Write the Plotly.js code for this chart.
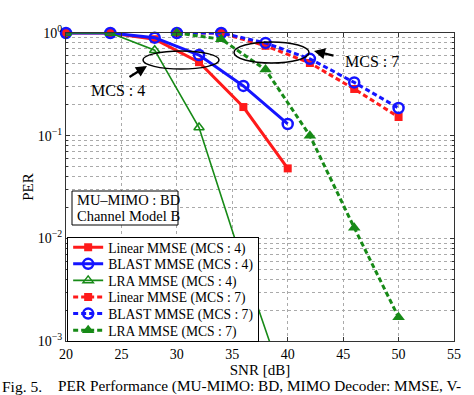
<!DOCTYPE html>
<html>
<head>
<meta charset="utf-8">
<script src="https://cdn.plot.ly/plotly-3.0.1.min.js"></script>
<style>html,body{margin:0;padding:0;background:#fff;}#chart{width:474px;height:395px;}</style>
</head>
<body>
<div id="chart"></div>
<script>
// ---- data ----
var snrMcs4 = [20, 24, 28, 32, 36, 40];
var linearMcs4 = [1.0, 1.0, 0.87, 0.52, 0.19, 0.048];
var blastMcs4 = [1.0, 1.0, 0.90, 0.61, 0.305, 0.13];
var lraMcs4 = [1.0, 1.0, 0.68, 0.12, 0.0055, 0.0003];

var snrMcs7 = [30, 34, 38, 42, 46, 50];
var linearMcs7 = [1.0, 1.0, 0.75, 0.51, 0.285, 0.152];
var blastMcs7 = [1.0, 1.0, 0.80, 0.56, 0.33, 0.186];
var lraMcs7 = [1.0, 0.87, 0.44, 0.10, 0.0127, 0.0017];

var seriesNames = [
  'Linear MMSE (MCS : 4)', 'BLAST MMSE (MCS : 4)', 'LRA MMSE (MCS : 4)',
  'Linear MMSE (MCS : 7)', 'BLAST MMSE (MCS : 7)', 'LRA MMSE (MCS : 7)'
];
var yTickVals = [0.001, 0.01, 0.1, 1];
var yTickText = ['10<sup>\u22123</sup>', '10<sup>\u22122</sup>', '10<sup>\u22121</sup>', '10<sup>0</sup>'];
var xTickVals = [20, 25, 30, 35, 40, 45, 50, 55];

// ---- styling ----
var RED = '#ff1a1a', BLUE = '#1414ff', GREEN = '#178a17';
var FONT = '"Liberation Serif", "DejaVu Serif", serif';
var dashPat = '5px,3px';

var minorVals = [];
[0.001, 0.01, 0.1].forEach(function (d) {
  for (var k = 2; k <= 9; k++) minorVals.push(d * k);
});

var traces = [
  {x: snrMcs4, y: linearMcs4, name: seriesNames[0], mode: 'lines+markers', cliponaxis: false,
   line: {color: RED, width: 3}, marker: {symbol: 'square', size: 8, color: RED}},
  {x: snrMcs4, y: blastMcs4, name: seriesNames[1], mode: 'lines+markers', cliponaxis: false,
   line: {color: BLUE, width: 3}, marker: {symbol: 'circle-open', size: 10, color: BLUE, line: {width: 2.5, color: BLUE}}},
  {x: snrMcs4, y: lraMcs4, name: seriesNames[2], mode: 'lines+markers', cliponaxis: true,
   line: {color: GREEN, width: 1.6}, marker: {symbol: 'triangle-up-open', size: 9, color: GREEN, line: {width: 1.5, color: GREEN}}},
  {x: snrMcs7, y: linearMcs7, name: seriesNames[3], mode: 'lines+markers', cliponaxis: false,
   line: {color: RED, width: 3, dash: dashPat}, marker: {symbol: 'square', size: 8, color: RED}},
  {x: snrMcs7, y: blastMcs7, name: seriesNames[4], mode: 'lines+markers', cliponaxis: false,
   line: {color: BLUE, width: 3, dash: dashPat}, marker: {symbol: 'circle-open', size: 10, color: BLUE, line: {width: 2.5, color: BLUE}}},
  {x: snrMcs7, y: lraMcs7, name: seriesNames[5], mode: 'lines+markers', cliponaxis: false,
   line: {color: GREEN, width: 3, dash: dashPat}, marker: {symbol: 'triangle-up', size: 11, color: GREEN}}
];

var L = 66, R = 454, T = 33, B = 341, W = 474, H = 395;
function px(p) { return (p - L) / (R - L); }
function py(p) { return (B - p) / (B - T); }

var layout = {
  width: W, height: H,
  margin: {l: L, r: W - R, t: T, b: H - B, pad: 0},
  paper_bgcolor: '#fff', plot_bgcolor: '#fff',
  font: {family: FONT, size: 14, color: '#000'},
  showlegend: true,
  legend: {x: 0.003, y: 0.0, xanchor: 'left', yanchor: 'bottom', bgcolor: '#fff',
           bordercolor: '#000', borderwidth: 1, font: {family: FONT, size: 13.6, color: '#000'},
           tracegroupgap: 0, itemwidth: 30},
  xaxis: {
    type: 'linear', range: [20, 55], tickvals: xTickVals, ticktext: xTickVals.map(String),
    showline: true, linecolor: '#333', linewidth: 1, mirror: 'ticks',
    ticks: 'inside', ticklen: 4, tickcolor: '#333',
    showgrid: true, gridcolor: '#aaa', griddash: 'dot', gridwidth: 1, zeroline: false,
    tickfont: {family: FONT, size: 14, color: '#000'},
    title: {text: 'SNR [dB]', font: {family: FONT, size: 15, color: '#000'}, standoff: 2}
  },
  yaxis: {
    type: 'log', range: [-3, 0], tickvals: yTickVals, ticktext: yTickText,
    showline: true, linecolor: '#333', linewidth: 1, mirror: 'ticks',
    ticks: 'inside', ticklen: 4, tickcolor: '#333',
    showgrid: true, gridcolor: '#aaa', griddash: 'dot', gridwidth: 1, zeroline: false,
    tickfont: {family: FONT, size: 14, color: '#000'},
    minor: {tickvals: minorVals, ticks: 'inside', ticklen: 2, tickcolor: '#333',
            showgrid: true, gridcolor: '#aaa', griddash: 'dot', gridwidth: 1},
    title: {text: 'PER', font: {family: FONT, size: 15, color: '#000'}, standoff: 0}
  },
  shapes: [
    {type: 'circle', xref: 'paper', yref: 'paper', x0: px(143), x1: px(219), y0: py(69), y1: py(51),
     line: {color: '#000', width: 1.5}},
    {type: 'circle', xref: 'paper', yref: 'paper', x0: px(234), x1: px(309), y0: py(63), y1: py(42),
     line: {color: '#000', width: 1.5}},
    {type: 'rect', xref: 'paper', yref: 'paper', x0: px(72), x1: px(178), y0: py(225), y1: py(191),
     fillcolor: '#fff', line: {color: '#000', width: 1}, layer: 'above'}
  ],
  annotations: [
    {xref: 'paper', yref: 'paper', x: px(147), y: py(66), ax: -19, ay: 12, text: '',
     showarrow: true, arrowhead: 2, arrowsize: 1, arrowwidth: 2.2, arrowcolor: '#000'},
    {xref: 'paper', yref: 'paper', x: px(314), y: py(51), ax: 21, ay: 5, text: '',
     showarrow: true, arrowhead: 2, arrowsize: 1, arrowwidth: 2.2, arrowcolor: '#000'},
    {xref: 'paper', yref: 'paper', x: px(118), y: py(90), xanchor: 'center', yanchor: 'middle',
     text: 'MCS : 4', showarrow: false, font: {family: FONT, size: 16, color: '#000'}},
    {xref: 'paper', yref: 'paper', x: px(372), y: py(61), xanchor: 'center', yanchor: 'middle',
     text: 'MCS : 7', showarrow: false, font: {family: FONT, size: 16, color: '#000'}},
    {xref: 'paper', yref: 'paper', x: px(75), y: py(200), xanchor: 'left', yanchor: 'middle',
     text: 'MU\u2013MIMO : BD', showarrow: false, font: {family: FONT, size: 14.5, color: '#000'}},
    {xref: 'paper', yref: 'paper', x: px(75), y: py(216), xanchor: 'left', yanchor: 'middle',
     text: 'Channel Model B', showarrow: false, font: {family: FONT, size: 14.5, color: '#000'}},
    {xref: 'paper', yref: 'paper', x: px(0), y: py(386), xanchor: 'left', yanchor: 'middle',
     text: 'Fig. 5.', showarrow: false, font: {family: FONT, size: 15.5, color: '#000'}},
    {xref: 'paper', yref: 'paper', x: px(56), y: py(386), xanchor: 'left', yanchor: 'middle',
     text: 'PER Performance (MU-MIMO: BD, MIMO Decoder: MMSE, V-', showarrow: false,
     font: {family: FONT, size: 15.3, color: '#000'}}
  ]
};

var gd = document.getElementById('chart');

// tighten the legend row spacing to match the reference (Plotly's minimum is ~19px/row)
function tightenLegend() {
  var leg = gd.querySelector('.infolayer .legend');
  if (!leg) return;
  var items = leg.querySelectorAll('.traces');
  var step = 16.6, pad = 2;
  var n = items.length;
  items.forEach(function (el, i) {
    var m = /translate\(\s*([-\d.]+)[ ,]+([-\d.]+)\s*\)/.exec(el.getAttribute('transform') || '');
    var xx = m ? m[1] : 1;
    el.setAttribute('transform', 'translate(' + xx + ',' + (pad + step / 2 + i * step) + ')');
  });
  var h = pad * 2 + n * step;
  var bg = leg.querySelector('rect.bg');
  if (bg) bg.setAttribute('height', h);
  var clips = document.querySelectorAll('clipPath[id*="legend"] rect');
  clips.forEach(function (r) { r.setAttribute('height', h + 2); });
  var mt = /translate\(\s*([-\d.]+)[ ,]+([-\d.]+)\s*\)/.exec(leg.getAttribute('transform') || '');
  var lx = mt ? mt[1] : (L + 1);
  leg.setAttribute('transform', 'translate(' + lx + ',' + (B - h - 0.5) + ')');
}

Plotly.newPlot(gd, traces, layout, {displayModeBar: false, staticPlot: true}).then(tightenLegend);
</script>
</body>
</html>
